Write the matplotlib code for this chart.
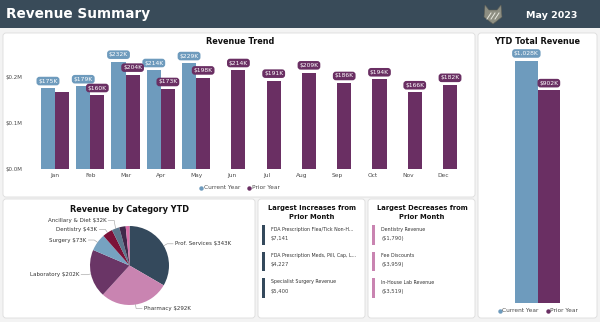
import matplotlib
matplotlib.use("Agg")
import matplotlib.pyplot as plt
from matplotlib.patches import FancyBboxPatch, Rectangle, Polygon
import numpy as np

# ---------------- data ----------------
months = ["Jan", "Feb", "Mar", "Apr", "May", "Jun",
          "Jul", "Aug", "Sep", "Oct", "Nov", "Dec"]
current_year = [175, 179, 232, 214, 229, None, None, None, None, None, None, None]
prior_year = [166, 160, 204, 173, 198, 214, 191, 209, 186, 194, 166, 182]
prior_unlabelled = ["Jan"]
series_names = ["Current Year", "Prior Year"]

ytd_current = 1028
ytd_prior = 902

categories = ["Prof. Services", "Pharmacy", "Laboratory", "Surgery",
              "Dentistry", "Ancillary & Diet", "Boarding", "Grooming"]
category_values = [343, 292, 202, 73, 43, 32, 27, 16]
labelled_categories = 6

increase_items = ["FDA Prescription Flea/Tick Non-H...",
                  "FDA Prescription Meds, Pill, Cap, L...",
                  "Specialist Surgery Revenue"]
increase_values = [7141, 4227, 5400]
decrease_items = ["Dentistry Revenue", "Fee Discounts", "In-House Lab Revenue"]
decrease_values = [-1790, -3959, -3519]

# ---------------- style ----------------
C_CUR = "#6e9bbd"
C_PRI = "#6a2f63"
C_HEAD = "#394b59"
C_TEXT = "#4a4a4a"
pie_colors = ["#34495c", "#c984b1", "#6a3566", "#76a2c1",
              "#7c1239", "#5d788e", "#40284a", "#d86ea9"]

W, H = 600, 322
fig = plt.figure(figsize=(W / 100, H / 100), dpi=100)
fig.patch.set_facecolor("#f3f3f3")


def fig_rect(x0, y0, x1, y1):
    return [x0 / W, 1 - y1 / H, (x1 - x0) / W, (y1 - y0) / H]


# background canvas in pixel coordinates (y downwards)
bg = fig.add_axes([0, 0, 1, 1])
bg.set_xlim(0, W)
bg.set_ylim(H, 0)
bg.axis("off")
bg.set_zorder(-1)


def panel(x0, y0, x1, y1):
    bg.add_patch(FancyBboxPatch((x0, y0), x1 - x0, y1 - y0,
                                boxstyle="round,pad=0,rounding_size=3",
                                fc="white", ec="#dcdcdc", lw=0.6))


# header band
bg.add_patch(Rectangle((0, 0), W, 28, fc=C_HEAD, ec="none"))
bg.text(6, 14, "Revenue Summary", color="white", fontsize=9.8,
        fontweight="bold", va="center", ha="left")
bg.text(577, 15, "May 2023", color="white", fontsize=6.8,
        fontweight="bold", va="center", ha="right")
# small logo
bg.add_patch(Polygon([(485, 5), (489, 10), (497, 10), (501, 5), (502, 17),
                      (493, 24), (484, 17)], closed=True,
                     fc="#8d8e82", ec="#5c5d55", lw=0.4))
for dx in (0, 4, 8):
    bg.plot([487 + dx, 491 + dx], [19, 13], color="#e8e8e0", lw=0.7)

# panels
panel(3, 33, 475, 197)
panel(478, 33, 597, 318)
panel(3, 199, 255, 318)
panel(258, 199, 365, 318)
panel(368, 199, 475, 318)

# ---------------- Revenue Trend ----------------
bg.text(240, 41, "Revenue Trend", fontsize=5.9, fontweight="bold",
        ha="center", va="center", color="#111111")

ax = fig.add_axes(fig_rect(37.4, 45, 460.6, 169.3))
ax.set_facecolor("none")
x = np.arange(len(months))
bw = 0.4
cur_idx = [i for i, v in enumerate(current_year) if v is not None]
cur_val = [current_year[i] for i in cur_idx]
ax.bar(np.array(cur_idx) - bw / 2, cur_val, width=bw, color=C_CUR)
ax.bar(x + bw / 2, prior_year, width=bw, color=C_PRI)
ax.set_xlim(-0.5, len(months) - 0.5)
ax.set_ylim(0, 268.5)
ax.set_yticks([0, 100, 200])
ax.set_yticklabels(["$0.0M", "$0.1M", "$0.2M"])
ax.set_xticks(x)
ax.set_xticklabels(months)
ax.tick_params(axis="x", length=0, labelsize=4.2, colors=C_TEXT, pad=2.6)
ax.tick_params(axis="y", length=0, labelsize=4.0, colors=C_TEXT, pad=11)
for s in ax.spines.values():
    s.set_visible(False)


def value_label(a, xpos, val, color, text):
    a.annotate(text, (xpos, val), xytext=(0, 5.2), textcoords="offset points",
               ha="center", va="center", fontsize=4.3, color="white",
               bbox=dict(boxstyle="round,pad=0.3,rounding_size=0.5",
                         fc=color, ec="none"), zorder=5)


for i, v in zip(cur_idx, cur_val):
    value_label(ax, i - bw / 2, v, C_CUR, f"${v}K")
for i, v in enumerate(prior_year):
    if months[i] in prior_unlabelled:
        continue
    value_label(ax, i + bw / 2, v, C_PRI, f"${v}K")


def legend(xc1, xc2, y):
    bg.plot([xc1], [y], "o", ms=3.2, color=C_CUR, mec="none")
    bg.text(xc1 + 2.8, y, series_names[0], fontsize=4.2, color=C_TEXT,
            va="center", ha="left")
    bg.plot([xc2], [y], "o", ms=3.2, color=C_PRI, mec="none")
    bg.text(xc2 + 2.8, y, series_names[1], fontsize=4.2, color=C_TEXT,
            va="center", ha="left")


legend(201, 249, 187.5)

# ---------------- YTD Total Revenue ----------------
bg.text(537, 41, "YTD Total Revenue", fontsize=5.9, fontweight="bold",
        ha="center", va="center", color="#111111")
ay = fig.add_axes(fig_rect(492.6, 45, 582.6, 302.7))
ay.set_facecolor("none")
ay.bar([0], [ytd_current], width=1.0, color=C_CUR)
ay.bar([1], [ytd_prior], width=1.0, color=C_PRI)
ay.set_xlim(-1.5, 2.5)
ay.set_ylim(0, 1094.7)
ay.axis("off")
value_label(ay, 0, ytd_current, C_CUR, f"${ytd_current:,}K")
value_label(ay, 1, ytd_prior, C_PRI, f"${ytd_prior:,}K")
legend(499.5, 547.5, 311)

# ---------------- Revenue by Category ----------------
bg.text(129, 209, "Revenue by Category YTD", fontsize=5.9, fontweight="bold",
        ha="center", va="center", color="#111111")
R = 39.5
cx, cy = 129.5, 265.5
ap = fig.add_axes(fig_rect(cx - R, cy - R, cx + R, cy + R))
ap.set_facecolor("none")
wedges, _ = ap.pie(category_values, colors=pie_colors, startangle=90,
                   counterclock=False, radius=1.0,
                   wedgeprops=dict(linewidth=0))
ap.set_xlim(-1, 1)
ap.set_ylim(-1, 1)
ap.set_aspect("equal")
ap.axis("off")

anchors = []
for i in range(labelled_categories):
    w = wedges[i]
    mid = np.deg2rad((w.theta1 + w.theta2) / 2)
    ex, ey = np.cos(mid), np.sin(mid)
    anchors.append([i, ex, ey, 1.1 * ex, 1.1 * ey])

# keep left-hand labels apart vertically
gap = 9 / R
left = sorted([a for a in anchors if a[1] < 0], key=lambda a: a[4])
for k in range(1, len(left)):
    if left[k][4] < left[k - 1][4] + gap:
        left[k][4] = left[k - 1][4] + gap

for i, ex, ey, lx, ly in anchors:
    side = 1 if ex >= 0 else -1
    hx = lx + side * 0.15
    ap.plot([ex, lx, hx], [ey, ly, ly], color="#9a9a9a", lw=0.4,
            clip_on=False)
    ap.text(hx + side * 0.05, ly, f"{categories[i]} ${category_values[i]}K",
            fontsize=4.0, color="#333333", va="center",
            ha="left" if side > 0 else "right", clip_on=False)

# ---------------- Largest increases / decreases ----------------
def change_panel(xc, title_lines, items, values, color, fmt):
    bg.text(xc, 208, title_lines[0], fontsize=4.9, fontweight="bold",
            ha="center", va="center", color="#111111")
    bg.text(xc, 217, title_lines[1], fontsize=4.9, fontweight="bold",
            ha="center", va="center", color="#111111")
    x0 = xc - 50
    for k, (name, val) in enumerate(zip(items, values)):
        top = 225 + k * 26.5
        bg.add_patch(Rectangle((x0, top), 3.0, 19.5, fc=color, ec="none"))
        bg.text(x0 + 9, top + 4, name, fontsize=3.4, color="#333333",
                va="center", ha="left")
        bg.text(x0 + 9, top + 13, fmt(val), fontsize=3.8, color="#444444",
                va="center", ha="left")


change_panel(312, ["Largest Increases from", "Prior Month"],
             increase_items, increase_values, "#34495c",
             lambda v: f"${v:,}")
change_panel(422, ["Largest Decreases from", "Prior Month"],
             decrease_items, decrease_values, "#c984b1",
             lambda v: f"(${abs(v):,})")

fig.savefig("out.png", dpi=100, facecolor=fig.get_facecolor())
